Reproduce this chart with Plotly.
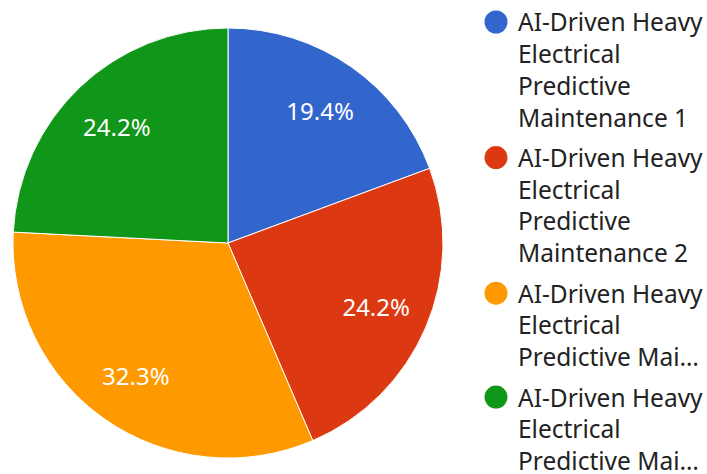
import plotly.graph_objects as go

labels = [
    "AI-Driven Heavy Electrical Predictive Maintenance 1",
    "AI-Driven Heavy Electrical Predictive Maintenance 2",
    "AI-Driven Heavy Electrical Predictive Maintenance 3",
    "AI-Driven Heavy Electrical Predictive Maintenance 4",
]
values = [6, 7.5, 10, 7.5]
colors = ["#3366cc", "#dc3912", "#ff9900", "#109618"]
# legend lines as wrapped/truncated in the reference
legend_lines = [
    ["AI-Driven Heavy", "Electrical", "Predictive", "Maintenance 1"],
    ["AI-Driven Heavy", "Electrical", "Predictive", "Maintenance 2"],
    ["AI-Driven Heavy", "Electrical", "Predictive Mai…"],
    ["AI-Driven Heavy", "Electrical", "Predictive Mai…"],
]

W, H = 707, 474
FONT = "Noto Sans"
dom = dict(x=[13 / W, 443 / W], y=[1 - 458 / H, 1 - 28 / H])

fig = go.Figure()
fig.add_trace(go.Pie(
    labels=labels,
    values=values,
    sort=False,
    direction="clockwise",
    rotation=0,
    marker=dict(colors=colors, line=dict(color="white", width=1)),
    textinfo="none",
    showlegend=False,
    hoverinfo="label+value+percent",
    domain=dom,
))
# transparent ring used only to place the percentage labels further out
fig.add_trace(go.Pie(
    labels=labels,
    values=values,
    sort=False,
    direction="clockwise",
    rotation=0,
    hole=0.5,
    marker=dict(colors=["rgba(0,0,0,0)"] * len(values), line=dict(width=0)),
    texttemplate="%{percent:.1%}",
    textposition="inside",
    insidetextorientation="horizontal",
    textfont=dict(family=FONT, size=24, color="white"),
    showlegend=False,
    hoverinfo="skip",
    domain=dom,
))

# custom legend (circles + wrapped text)
shapes = []
annotations = []
line_h = 31.7
gap = 40.5
y = 22
for i, lines in enumerate(legend_lines):
    shapes.append(dict(
        type="circle", xref="paper", yref="paper",
        xsizemode="pixel", ysizemode="pixel",
        xanchor=496 / W, yanchor=1 - y / H,
        x0=-11.5, x1=11.5, y0=-11.5, y1=11.5,
        fillcolor=colors[i], line=dict(width=0),
    ))
    for j, t in enumerate(lines):
        annotations.append(dict(
            text=t, xref="paper", yref="paper",
            x=516 / W, y=1 - (y + j * line_h) / H,
            xanchor="left", yanchor="middle", showarrow=False,
            font=dict(family=FONT, size=24.5, color="#222222"),
        ))
    y += (len(lines) - 1) * line_h + gap

fig.update_layout(
    width=W, height=H,
    margin=dict(l=0, r=0, t=0, b=0),
    paper_bgcolor="white",
    plot_bgcolor="white",
    font=dict(family=FONT),
    shapes=shapes,
    annotations=annotations,
)

fig.write_html("out.html")
